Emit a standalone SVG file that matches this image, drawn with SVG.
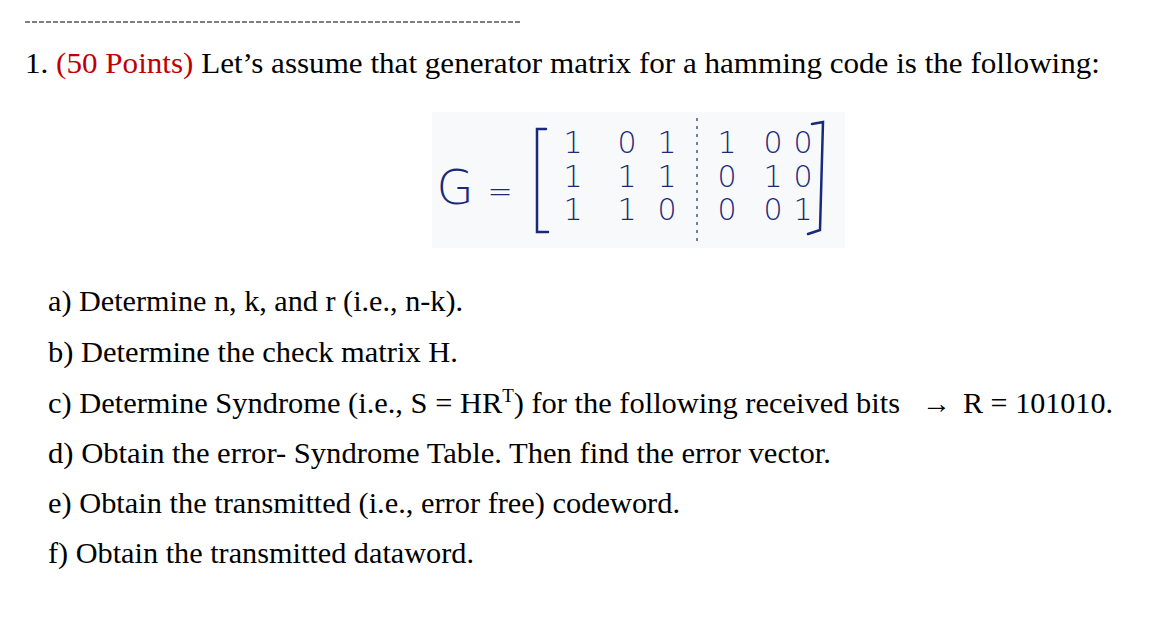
<svg xmlns="http://www.w3.org/2000/svg" width="1159" height="641" viewBox="0 0 1159 641">
<style>
.t{font-family:"Liberation Serif",serif;font-size:29px;fill:#000}
.r{fill:#c00000}
.m{font-family:"DejaVu Sans",sans-serif;font-weight:200;font-size:30px;fill:#1a2a7a;text-anchor:middle}
.b{fill:none;stroke:#1a2a7a;stroke-width:2.5;stroke-linecap:round}
</style>
<rect width="1159" height="641" fill="#fff"/>
<line x1="25" y1="22" x2="520" y2="22" stroke="#000" stroke-width="1" stroke-dasharray="5,2"/>
<text class="t" x="25" y="73" textLength="1075" lengthAdjust="spacingAndGlyphs">1. <tspan class="r">(50 Points)</tspan> Let’s assume that generator matrix for a hamming code is the following:</text>
<g id="matrix">
<rect x="432" y="112" width="413" height="136" fill="#f8f9fb"/>
<text x="455" y="204" font-family="DejaVu Sans,sans-serif" font-weight="200" font-size="48" fill="#1a2a7a" text-anchor="middle">G</text>
<text x="500" y="202" class="m">=</text>
<path class="b" d="M546,129 L537,129 L537,232 L548,232"/>
<path class="b" d="M812,124 L823,122 L820,230 L808,234"/>
<line x1="697" y1="118" x2="697" y2="246" stroke="#1a2a7a" stroke-width="1.2" stroke-dasharray="3,5"/>
<text class="m" x="573" y="153">1</text><text class="m" x="627" y="153">0</text><text class="m" x="667" y="153">1</text><text class="m" x="727" y="153">1</text><text class="m" x="773" y="153">0</text><text class="m" x="803" y="153">0</text>
<text class="m" x="573" y="187">1</text><text class="m" x="627" y="187">1</text><text class="m" x="667" y="187">1</text><text class="m" x="727" y="187">0</text><text class="m" x="773" y="187">1</text><text class="m" x="803" y="187">0</text>
<text class="m" x="573" y="220">1</text><text class="m" x="627" y="220">1</text><text class="m" x="667" y="220">0</text><text class="m" x="727" y="220">0</text><text class="m" x="773" y="220">0</text><text class="m" x="803" y="220">1</text>
</g>
<text class="t" x="48" y="311" textLength="415" lengthAdjust="spacingAndGlyphs">a) Determine n, k, and r (i.e., n-k).</text>
<text class="t" x="48" y="362" textLength="410" lengthAdjust="spacingAndGlyphs">b) Determine the check matrix H.</text>
<text class="t" x="48" y="413" textLength="852" lengthAdjust="spacingAndGlyphs">c) Determine Syndrome (i.e., S = HR<tspan font-size="18" dy="-11">T</tspan><tspan dy="11">) for the following received bits</tspan></text>
<text class="t" x="922" y="413" font-family="DejaVu Sans,sans-serif" font-size="20">→</text>
<text class="t" x="963" y="413" textLength="150" lengthAdjust="spacingAndGlyphs">R = 101010.</text>
<text class="t" x="48" y="463" textLength="783" lengthAdjust="spacingAndGlyphs">d) Obtain the error- Syndrome Table. Then find the error vector.</text>
<text class="t" x="48" y="513" textLength="632" lengthAdjust="spacingAndGlyphs">e) Obtain the transmitted (i.e., error free) codeword.</text>
<text class="t" x="48" y="563" textLength="426" lengthAdjust="spacingAndGlyphs">f) Obtain the transmitted dataword.</text>
</svg>
